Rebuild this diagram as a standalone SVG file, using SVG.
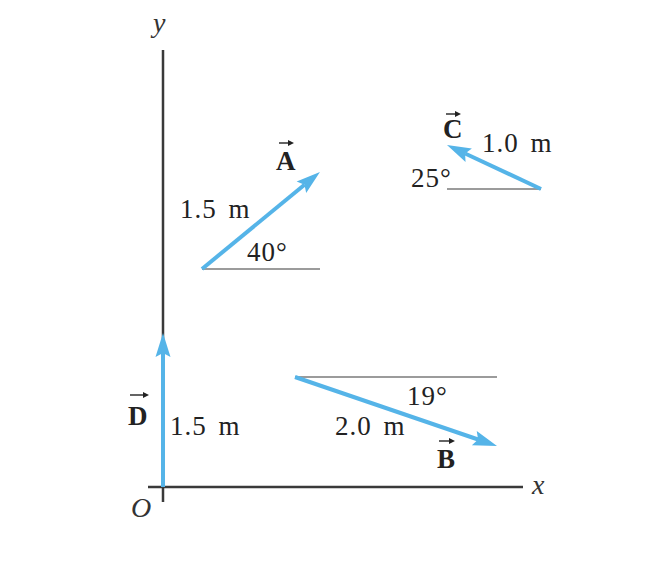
<svg xmlns="http://www.w3.org/2000/svg" width="656" height="570" viewBox="0 0 656 570">
<style>
.ax{stroke:#3a3a3a;stroke-width:2.5;fill:none}
.ref{stroke:#7a7a7a;stroke-width:1.3;fill:none}
.vec{stroke:#55b4e8;stroke-width:4;fill:none;marker-end:url(#head)}
.t{font-family:"Liberation Serif","Times New Roman",serif;font-size:27px;fill:#222;letter-spacing:1px;word-spacing:4px}
.b{font-family:"Liberation Serif","Times New Roman",serif;font-size:27px;font-weight:bold;fill:#222}
.i{font-family:"Liberation Serif","Times New Roman",serif;font-size:28px;font-style:italic;fill:#333}
.ov{stroke:#222;stroke-width:1.4;fill:none}
.ovh{fill:#222}
</style>
<defs>
<marker id="head" markerUnits="userSpaceOnUse" markerWidth="30" markerHeight="20" viewBox="-5 -10 30 20" refX="0" refY="0" orient="auto">
<path d="M-4,-7.5 L20,0 L-4,7.5 L0,0 Z" fill="#55b4e8"/>
</marker>
</defs>
<g id="axes">
<line class="ax" x1="163" y1="50" x2="163" y2="502"/>
<line class="ax" x1="148" y1="487" x2="523" y2="487"/>
<text class="i" x="153" y="32">y</text>
<text class="i" x="532" y="494">x</text>
<text class="i" x="131" y="517" font-size="30">O</text>
</g>
<g id="vectorA">
<line class="ref" x1="202" y1="269" x2="320" y2="269"/>
<line class="vec" x1="202" y1="269" x2="304.5" y2="184.7"/>
<text class="t" x="180" y="218">1.5 m</text>
<text class="t" x="247" y="261">40°</text>
<text class="b" x="276" y="170">A</text>
<path class="ov" d="M279,143 H290"/>
<path class="ovh" d="M294,143 L288,140 L288,146 Z"/>
</g>
<g id="vectorC">
<line class="ref" x1="447" y1="189" x2="541" y2="189"/>
<line class="vec" x1="541" y1="189" x2="465.1" y2="153.5"/>
<text class="b" x="443" y="138">C</text>
<path class="ov" d="M446,114 H457"/>
<path class="ovh" d="M461,114 L455,111 L455,117 Z"/>
<text class="t" x="482" y="152">1.0 m</text>
<text class="t" x="411" y="187">25°</text>
</g>
<g id="vectorB">
<line class="ref" x1="295" y1="377" x2="497" y2="377"/>
<line class="vec" x1="295" y1="377" x2="478.1" y2="439.5"/>
<text class="t" x="407" y="405">19°</text>
<text class="t" x="335" y="435">2.0 m</text>
<text class="b" x="437" y="468">B</text>
<path class="ov" d="M439,441 H451"/>
<path class="ovh" d="M455,441 L449,438 L449,444 Z"/>
</g>
<g id="vectorD">
<line class="vec" x1="163" y1="487" x2="163" y2="353"/>
<text class="b" x="128" y="425">D</text>
<path class="ov" d="M130,395 H145"/>
<path class="ovh" d="M149,395 L143,392 L143,398 Z"/>
<text class="t" x="170" y="435">1.5 m</text>
</g>
</svg>
